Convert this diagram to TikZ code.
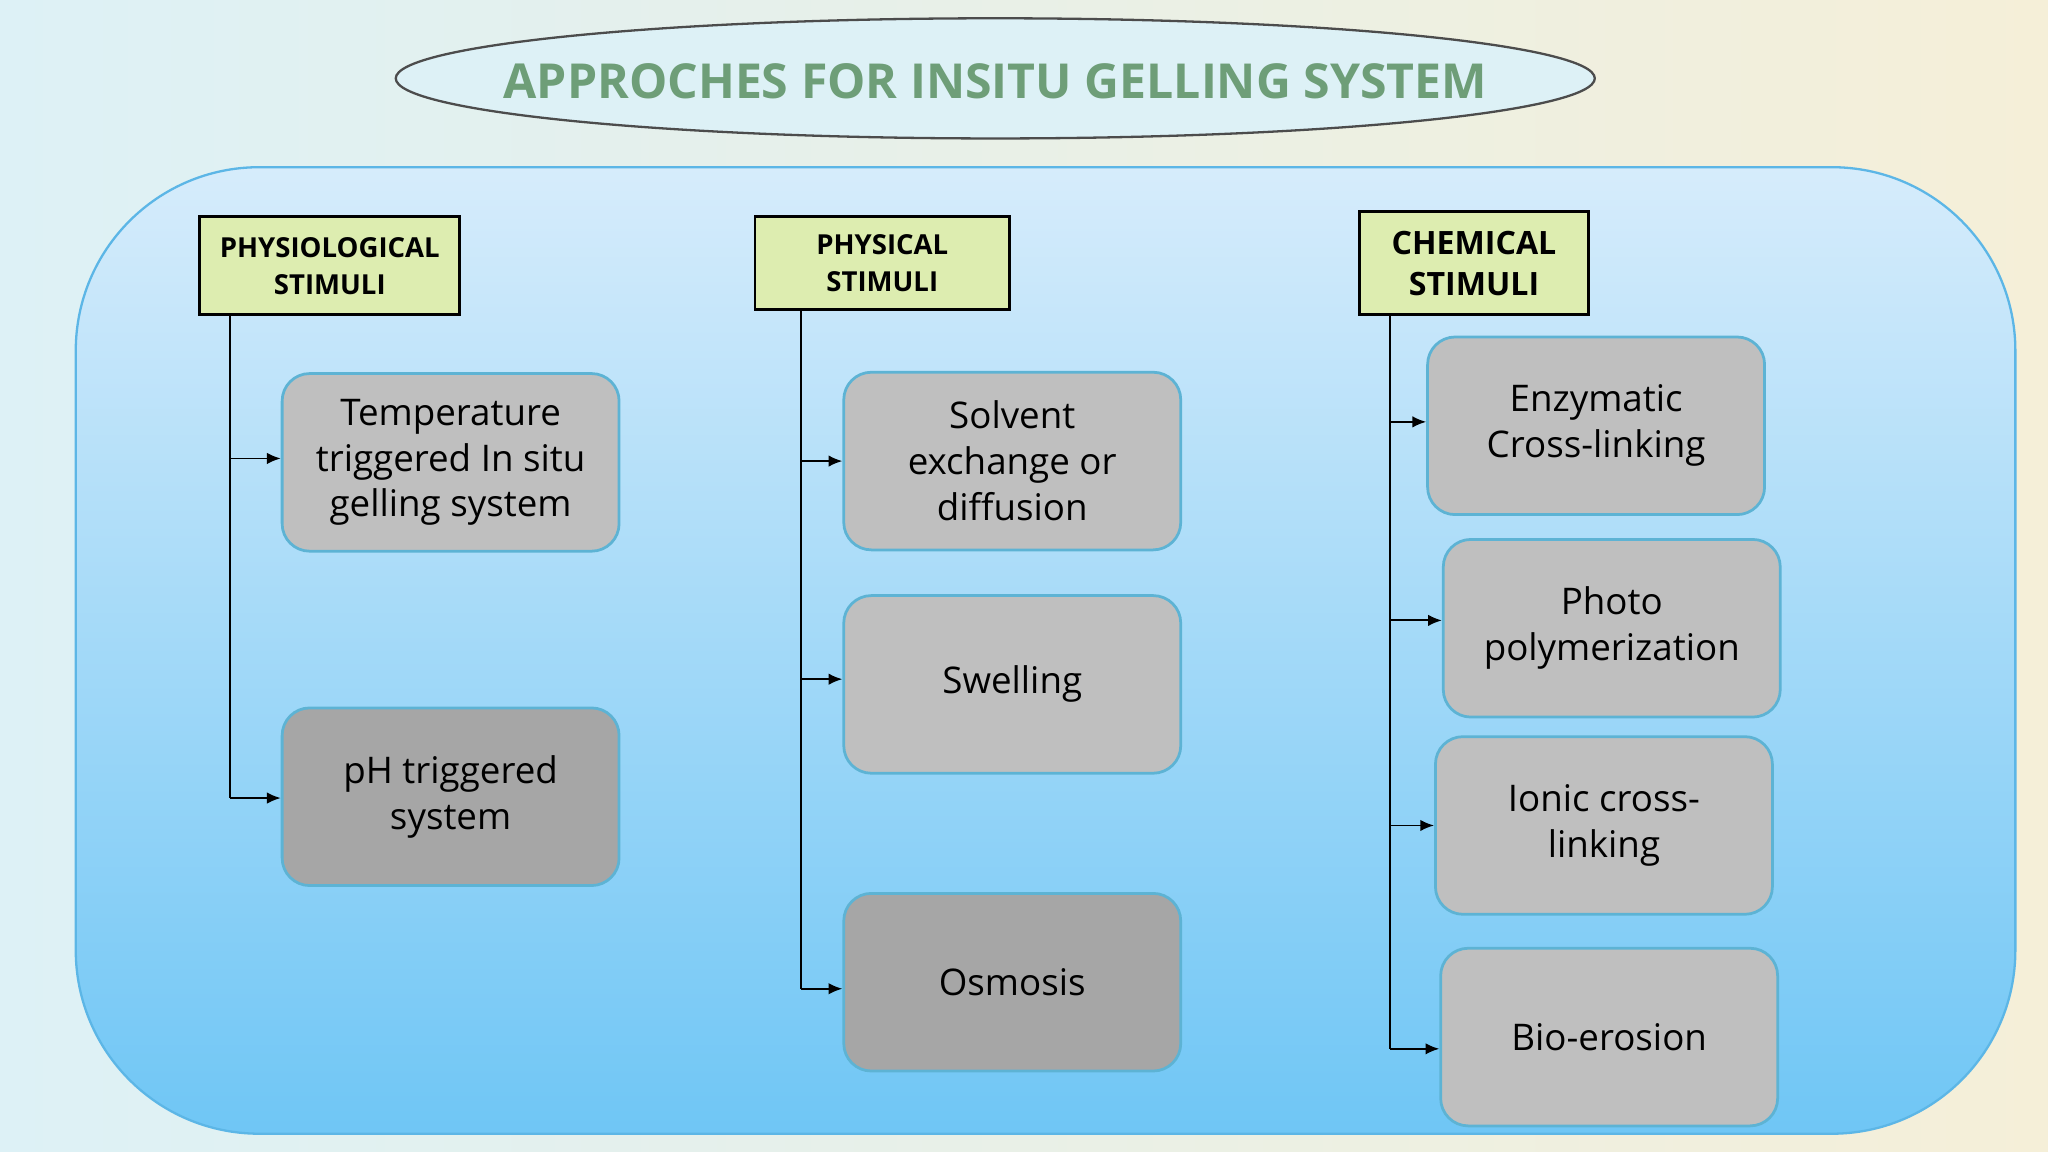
\documentclass[tikz,border=0pt]{standalone}
\usepackage{fontspec}
\setmainfont{Open Sans}
\usetikzlibrary{shapes.geometric,arrows.meta}
\definecolor{bgA}{HTML}{DDF1F6}
\definecolor{bgB}{HTML}{F5EFD8}
\definecolor{panTop}{HTML}{D6ECFB}
\definecolor{panBot}{HTML}{6FC6F5}
\definecolor{panLine}{HTML}{5CB6E6}
\definecolor{hdr}{HTML}{DDEDB0}
\definecolor{boxL}{HTML}{BFBFBF}
\definecolor{boxD}{HTML}{A6A6A6}
\definecolor{boxLine}{HTML}{5DB3D4}
\definecolor{ttl}{HTML}{6E9E78}
\begin{document}
\begin{tikzpicture}[x=0.02cm,y=-0.02cm,
  hdrbox/.style={draw=black,line width=1.2pt,fill=hdr,align=center,inner sep=0pt,font=\fontsize{12}{16}\selectfont\bfseries},
  item/.style={draw=boxLine,line width=1.2pt,fill=boxL,rounded corners=12pt,align=center,inner sep=0pt,minimum width=258*0.02cm,minimum height=136*0.02cm,font=\fontsize{16}{20}\selectfont},
  dark/.style={fill=boxD},
  conn/.style={line width=0.8pt},
  arr/.style={line width=0.8pt,-{Latex[length=6pt,width=5pt]}}]
\useasboundingbox (0,0) rectangle (1568,882);
\shade[left color=bgA,right color=bgB] (0,0) rectangle (1568,882);
% panel
\shade[top color=panTop,bottom color=panBot,rounded corners=80pt] (58,128) rectangle (1543,868);
\draw[panLine,line width=1pt,rounded corners=80pt] (58,128) rectangle (1543,868);
% title
\node[ellipse,draw=black!70,line width=1pt,fill=bgA,minimum width=918*0.02cm,minimum height=92*0.02cm] (title) at (762,60) {};
\node[font=\fontsize{21}{24}\selectfont\bfseries,text=ttl,draw=none] (titletext) at (762,62) {APPROCHES FOR INSITU GELLING SYSTEM};
% headers
\node[hdrbox,minimum width=199*0.02cm,minimum height=75*0.02cm] (h1) at (252.5,203.5) {PHYSIOLOGICAL\\STIMULI};
\node[hdrbox,minimum width=195*0.02cm,minimum height=71*0.02cm] (h2) at (675.5,201.5) {PHYSICAL\\STIMULI};
\node[hdrbox,minimum width=175*0.02cm,minimum height=79*0.02cm,font=\fontsize{14}{18}\selectfont\bfseries] (h3) at (1128.5,201.5) {CHEMICAL\\STIMULI};
% items
\node[item] (temp) at (345,354) {Temperature\\triggered In situ\\gelling system};
\node[item,dark] (ph) at (345,610) {pH triggered\\system};
\node[item] (solv) at (775,353) {Solvent\\exchange or\\diffusion};
\node[item] (swel) at (775,524) {Swelling};
\node[item,dark] (osm) at (775,752) {Osmosis};
\node[item] (enz) at (1222,326) {Enzymatic\\Cross-linking};
\node[item] (photo) at (1234,481) {Photo\\polymerization};
\node[item] (ion) at (1228,632) {Ionic cross-\\linking};
\node[item] (bio) at (1232,794) {Bio-erosion};
% trunks
\coordinate (a0) at (176,241); \coordinate (a1) at (176,351); \coordinate (a2) at (176,611);
\coordinate (b0) at (613,237); \coordinate (b1) at (613,353); \coordinate (b2) at (613,520); \coordinate (b3) at (613,757);
\coordinate (c0) at (1064,241); \coordinate (c1) at (1064,323); \coordinate (c2) at (1064,475); \coordinate (c3) at (1064,632); \coordinate (c4) at (1064,803);
\draw[conn] (a0) -- (a2); \draw[conn] (b0) -- (b3); \draw[conn] (c0) -- (c4);
\draw[arr] (a1) -- (a1 -| temp.west);
\draw[arr] (a2) -- (a2 -| ph.west);
\draw[arr] (b1) -- (b1 -| solv.west);
\draw[arr] (b2) -- (b2 -| swel.west);
\draw[arr] (b3) -- (b3 -| osm.west);
\draw[arr] (c1) -- (c1 -| enz.west);
\draw[arr] (c2) -- (c2 -| photo.west);
\draw[arr] (c3) -- (c3 -| ion.west);
\draw[arr] (c4) -- (c4 -| bio.west);
\end{tikzpicture}
\end{document}
